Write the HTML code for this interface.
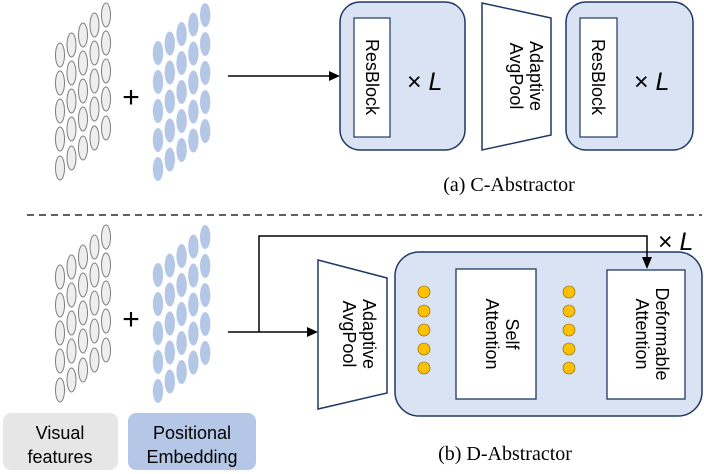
<!DOCTYPE html>
<html><head><meta charset="utf-8"><style>
html,body{margin:0;padding:0;background:#fff;}
svg{display:block;}
.s{font-family:"Liberation Sans",sans-serif;}
.sr{font-family:"Liberation Serif",serif;}
</style></head><body>
<svg width="704" height="474" viewBox="0 0 704 474" xmlns="http://www.w3.org/2000/svg">
<defs>
<g id="gc">
<ellipse cx="0" cy="0" rx="4.5" ry="12" fill="#eeeeee" stroke="#7f7f7f" stroke-width="1"/>
<ellipse cx="0" cy="28" rx="4.5" ry="12" fill="#eeeeee" stroke="#7f7f7f" stroke-width="1"/>
<ellipse cx="0" cy="56" rx="4.5" ry="12" fill="#eeeeee" stroke="#7f7f7f" stroke-width="1"/>
<ellipse cx="0" cy="84" rx="4.5" ry="12" fill="#eeeeee" stroke="#7f7f7f" stroke-width="1"/>
<ellipse cx="0" cy="113" rx="4.5" ry="12" fill="#eeeeee" stroke="#7f7f7f" stroke-width="1"/>
</g>
<g id="gg">
<use href="#gc" x="0" y="0"/><use href="#gc" x="11.5" y="-10"/><use href="#gc" x="23" y="-20"/><use href="#gc" x="34.5" y="-30"/><use href="#gc" x="46" y="-40"/>
</g>
<g id="bc">
<ellipse cx="0" cy="0" rx="5.2" ry="12" fill="#b4c7e7"/>
<ellipse cx="0" cy="29" rx="5.2" ry="12" fill="#b4c7e7"/>
<ellipse cx="0" cy="58" rx="5.2" ry="12" fill="#b4c7e7"/>
<ellipse cx="0" cy="87" rx="5.2" ry="12" fill="#b4c7e7"/>
<ellipse cx="0" cy="116" rx="5.2" ry="12" fill="#b4c7e7"/>
</g>
<g id="bg">
<use href="#bc" x="0" y="0"/><use href="#bc" x="11.8" y="-9.5"/><use href="#bc" x="23.6" y="-19"/><use href="#bc" x="35.4" y="-28.5"/><use href="#bc" x="47.2" y="-38"/>
</g>
<g id="dots">
<circle cx="0" cy="0" r="6" fill="#ffc000" stroke="#7f6000" stroke-width="0.6"/>
<circle cx="0" cy="19" r="6" fill="#ffc000" stroke="#7f6000" stroke-width="0.6"/>
<circle cx="0" cy="38" r="6" fill="#ffc000" stroke="#7f6000" stroke-width="0.6"/>
<circle cx="0" cy="57" r="6" fill="#ffc000" stroke="#7f6000" stroke-width="0.6"/>
<circle cx="0" cy="76" r="6" fill="#ffc000" stroke="#7f6000" stroke-width="0.6"/>
</g>
</defs>

<use href="#gg" x="60" y="55"/>
<use href="#bg" x="158" y="53"/>
<text x="131" y="107" class="s" font-size="30" text-anchor="middle">+</text>
<line x1="228" y1="76" x2="330" y2="76" stroke="#000" stroke-width="1.5"/>
<polygon points="340,76 329,71 329,81" fill="#000"/>

<rect x="340" y="2" width="125" height="148" rx="20" fill="#dae3f3" stroke="#203864" stroke-width="1.5"/>
<rect x="354" y="18" width="36" height="119" fill="#fff" stroke="#203864" stroke-width="1.2"/>
<text class="s" font-size="18" text-anchor="middle" transform="translate(366,77) rotate(90)">ResBlock</text>
<text x="407" y="90" class="s" font-size="25">× <tspan font-style="italic">L</tspan></text>

<polygon points="482,3 551,18 551,135 482,150" fill="#fff" stroke="#203864" stroke-width="1.5"/>
<text class="s" font-size="18" text-anchor="middle" transform="translate(520,76) rotate(90)"><tspan x="0" dy="-10">Adaptive</tspan><tspan x="0" dy="20">AvgPool</tspan></text>

<rect x="566" y="2" width="127" height="148" rx="20" fill="#dae3f3" stroke="#203864" stroke-width="1.5"/>
<rect x="580" y="18" width="37" height="119" fill="#fff" stroke="#203864" stroke-width="1.2"/>
<text class="s" font-size="18" text-anchor="middle" transform="translate(592,77) rotate(90)">ResBlock</text>
<text x="634" y="90" class="s" font-size="25">× <tspan font-style="italic">L</tspan></text>

<text x="509" y="191" class="sr" font-size="20" text-anchor="middle">(a) C-Abstractor</text>

<line x1="27" y1="215" x2="702" y2="215" stroke="#000" stroke-width="1.3" stroke-dasharray="7,5"/>

<use href="#gg" x="60" y="277"/>
<use href="#bg" x="158" y="275"/>
<text x="131" y="329" class="s" font-size="30" text-anchor="middle">+</text>

<polyline points="228,332 308,332" fill="none" stroke="#000" stroke-width="1.5"/>
<polygon points="318,332 307,327 307,337" fill="#000"/>

<polygon points="318,260 387,278 387,393 318,409" fill="#fff" stroke="#203864" stroke-width="1.5"/>
<text class="s" font-size="18" text-anchor="middle" transform="translate(353,334) rotate(90)"><tspan x="0" dy="-10">Adaptive</tspan><tspan x="0" dy="20">AvgPool</tspan></text>

<rect x="395" y="252" width="307" height="164" rx="24" fill="#dae3f3" stroke="#203864" stroke-width="1.5"/>
<use href="#dots" x="424" y="292"/>
<rect x="456" y="269" width="80" height="130" fill="#fff" stroke="#203864" stroke-width="1.3"/>
<text class="s" font-size="18" text-anchor="middle" transform="translate(496,334) rotate(90)"><tspan x="0" dy="-10">Self</tspan><tspan x="0" dy="20">Attention</tspan></text>
<use href="#dots" x="569" y="292"/>
<rect x="607" y="270" width="78" height="129" fill="#fff" stroke="#203864" stroke-width="1.3"/>
<text class="s" font-size="18" text-anchor="middle" transform="translate(646,334) rotate(90)"><tspan x="0" dy="-10">Deformable</tspan><tspan x="0" dy="20">Attention</tspan></text>

<polyline points="259,332 259,236 647,236 647,258" fill="none" stroke="#000" stroke-width="1.5"/>
<polygon points="647,269 642,257 652,257" fill="#000"/>
<text x="658" y="250" class="s" font-size="25">× <tspan font-style="italic">L</tspan></text>

<text x="505" y="460" class="sr" font-size="20" text-anchor="middle">(b) D-Abstractor</text>

<rect x="3" y="413" width="115" height="57" rx="8" fill="#e7e6e6"/>
<text class="s" font-size="18" text-anchor="middle" x="60" y="439">Visual</text>
<text class="s" font-size="18" text-anchor="middle" x="60" y="463">features</text>
<rect x="128" y="413" width="128" height="57" rx="8" fill="#b4c7e7"/>
<text class="s" font-size="18" text-anchor="middle" x="192" y="439">Positional</text>
<text class="s" font-size="18" text-anchor="middle" x="192" y="463">Embedding</text>
</svg>
</body></html>
